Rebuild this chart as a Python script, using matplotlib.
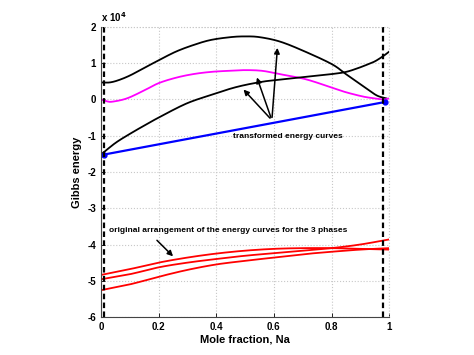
import numpy as np
import matplotlib.pyplot as plt

plt.rcParams['font.family'] = ['Liberation Sans', 'DejaVu Sans']
plt.rcParams['font.weight'] = 'bold'
plt.rcParams['axes.unicode_minus'] = False

# values in units of 1e4
x_top = [0.0, 0.03, 0.06, 0.1, 0.15, 0.2, 0.26, 0.32, 0.38, 0.45, 0.5, 0.55, 0.62, 0.7, 0.8, 0.85, 0.9, 0.93, 0.96, 0.99]
g_top = [0.47, 0.47, 0.53, 0.66, 0.87, 1.08, 1.32, 1.5, 1.64, 1.72, 1.74, 1.72, 1.6, 1.35, 0.98, 0.7, 0.42, 0.25, 0.1, 0.03]

x_mag = [0.0, 0.02, 0.04, 0.09, 0.15, 0.2, 0.26, 0.32, 0.38, 0.44, 0.5, 0.56, 0.62, 0.71, 0.8, 0.85, 0.91, 0.95, 0.98, 1.0]
g_mag = [0.0, -0.05, -0.06, 0.03, 0.25, 0.45, 0.6, 0.7, 0.76, 0.79, 0.81, 0.79, 0.7, 0.56, 0.33, 0.2, 0.08, 0.03, 0.0, 0.03]

x_low = [0.0, 0.05, 0.1, 0.15, 0.2, 0.3, 0.4, 0.45, 0.5, 0.56, 0.6, 0.68, 0.8, 0.85, 0.89, 0.92, 0.95, 0.98, 1.0]
g_low = [-1.52, -1.2, -0.95, -0.72, -0.5, -0.1, 0.17, 0.3, 0.4, 0.49, 0.53, 0.6, 0.7, 0.76, 0.86, 0.95, 1.05, 1.2, 1.32]

x_tan = [0.01, 0.985]
g_tan = [-1.52, -0.07]

x_red = [0.0, 0.1, 0.2, 0.3, 0.4, 0.5, 0.6, 0.7, 0.8, 0.9, 1.0]
g_red1 = [-4.84, -4.68, -4.5, -4.36, -4.25, -4.17, -4.12, -4.1, -4.1, -4.12, -4.14]
g_red2 = [-4.96, -4.82, -4.63, -4.5, -4.4, -4.31, -4.24, -4.17, -4.1, -4.0, -3.86]
g_red3 = [-5.26, -5.1, -4.89, -4.7, -4.55, -4.45, -4.36, -4.27, -4.2, -4.14, -4.1]

x_bounds = [0.01, 0.98]

fig = plt.figure(figsize=(4.74, 3.55), dpi=100)
ax = fig.add_axes([0.213, 0.107, 0.608, 0.817])


def smooth(xs, ys, n=20):
    # Catmull-Rom curve through the read points
    p = np.column_stack([xs, ys]).astype(float)
    p = np.vstack([2 * p[0] - p[1], p, 2 * p[-1] - p[-2]])
    out = []
    t = np.linspace(0, 1, n, endpoint=False)[:, None]
    for i in range(1, len(p) - 2):
        p0, p1, p2, p3 = p[i - 1], p[i], p[i + 1], p[i + 2]
        seg = 0.5 * ((2 * p1) + (-p0 + p2) * t + (2 * p0 - 5 * p1 + 4 * p2 - p3) * t ** 2
                     + (-p0 + 3 * p1 - 3 * p2 + p3) * t ** 3)
        out.append(seg)
    out.append(p[-2][None, :])
    out = np.vstack(out)
    return out[:, 0], out[:, 1]


for xs, ys, c in [(x_top, g_top, 'black'), (x_mag, g_mag, 'magenta'), (x_low, g_low, 'black'),
                  (x_red, g_red1, 'red'), (x_red, g_red2, 'red'), (x_red, g_red3, 'red')]:
    xx, yy = smooth(xs, ys)
    ax.plot(xx, yy, color=c, lw=1.3)

ax.plot(x_tan, g_tan, color='blue', lw=1.6, marker='o', markersize=3.5)

for xb in x_bounds:
    ax.axvline(xb, color='black', ls=(0, (2.5, 1.5)), lw=1.6)

# arrows for transformed curves
for hx, hy in [(0.488, 0.33), (0.538, 0.68), (0.613, 1.5)]:
    ax.annotate('', xy=(hx, hy), xytext=(0.593, -0.57),
                arrowprops=dict(arrowstyle='-|>', color='black', lw=1.1, mutation_scale=8))
ax.text(0.458, -1.03, 'transformed energy curves', fontsize=6, fontweight='bold', va='center')

ax.annotate('', xy=(0.257, -4.38), xytext=(0.1875, -3.83),
            arrowprops=dict(arrowstyle='-|>', color='black', lw=1.1, mutation_scale=8))
ax.text(0.028, -3.6, 'original arrangement of the energy curves for the 3 phases',
        fontsize=6, fontweight='bold', va='center')

ax.set_xlim(0, 1)
ax.set_ylim(-6, 2)
ax.set_xticks([0, 0.2, 0.4, 0.6, 0.8, 1])
ax.set_xticklabels(['0', '0.2', '0.4', '0.6', '0.8', '1'])
ax.set_yticks(range(-6, 3))
ax.tick_params(labelsize=7, direction='in', length=3, width=0.6)
ax.grid(True, ls=':', color='#c8c8c8', lw=0.8)
for s in ['top', 'right']:
    ax.spines[s].set_visible(False)
for s in ['left', 'bottom']:
    ax.spines[s].set_color('#444444')
    ax.spines[s].set_linewidth(0.8)
ax.plot([0, 1], [2, 2], ls=':', color='#c8c8c8', lw=0.8, clip_on=False)
ax.plot([1, 1], [-6, 2], ls=':', color='#c8c8c8', lw=0.8, clip_on=False)

ax.text(0.0, 1.01, 'x 10$^{4}$', transform=ax.transAxes, fontsize=7, fontweight='bold', va='bottom')
ax.set_xlabel('Mole fraction, Na', fontsize=8, fontweight='bold', labelpad=2)
ax.set_ylabel('Gibbs energy', fontsize=8, fontweight='bold', labelpad=4)

fig.savefig('out.png', dpi=100)
